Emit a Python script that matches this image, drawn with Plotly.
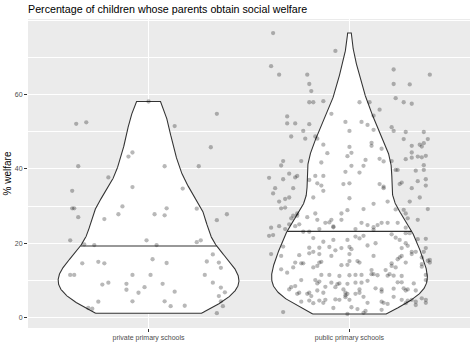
import numpy as np
import plotly.graph_objects as go

# ---------------- data ----------------
categories = ["private primary schools", "public primary schools"]
y_tick_values = [0, 20, 40, 60]

private_welfare = [58.1, 52.1, 52.5, 54.8, 51.5, 45.8, 44.4, 43.3, 40.7, 40.7,
                   40.7, 37.7, 35.1, 34.7, 34.1, 29.9, 29.4, 29.4, 29.4, 29.3,
                   27.0, 26.5, 27.8, 27.8, 27.5, 26.2, 27.8, 20.8, 20.8, 20.8,
                   20.3, 19.7, 19.5, 19.5, 17.0, 14.6, 15.0, 14.6, 15.7, 14.7,
                   15.1, 14.8, 13.4, 11.5, 11.5, 11.5, 11.5, 11.5, 8.9, 9.4,
                   9.1, 7.5, 8.2, 9.1, 6.7, 7.0, 9.4, 8.1, 6.8, 5.8,
                   4.3, 4.4, 4.4, 4.4, 2.6, 2.4, 3.1, 3.2, 3.1, 1.2]
private_jitter = [0.00, -0.36, -0.31, 0.34, 0.13, 0.31, -0.08, -0.10, -0.35, 0.08,
                  0.25, -0.20, -0.08, 0.17, -0.38, -0.13, -0.38, -0.37, 0.09, 0.24,
                  -0.35, -0.22, -0.15, 0.03, 0.08, 0.34, 0.39, -0.39, -0.01, 0.26,
                  0.24, -0.32, -0.27, 0.04, 0.32, -0.33, -0.25, -0.22, 0.02, 0.09,
                  0.29, 0.35, 0.36, -0.39, -0.37, -0.08, 0.01, 0.28, -0.23, -0.20,
                  -0.11, -0.11, -0.02, 0.07, -0.05, 0.13, 0.32, 0.36, 0.38, 0.35,
                  -0.25, -0.08, 0.08, 0.36, -0.30, -0.28, 0.11, 0.18, 0.37, 0.34]

public_welfare = [76.5, 71.7, 67.6, 65.3, 65.3, 62.8, 60.9, 57.9, 57.9, 58.2,
                  66.7, 62.8, 62.7, 65.3, 59.0, 57.9, 57.5, 57.9, 57.9, 55.9,
                  54.3, 54.8, 54.1, 52.2, 52.2, 52.0, 52.6, 52.6, 51.8, 50.2,
                  48.7, 48.1, 48.7, 48.1, 50.2, 50.5, 51.2, 50.2, 49.9, 49.9,
                  48.0, 48.0, 46.9, 46.5, 46.2, 46.0, 46.5, 47.0, 46.2, 45.9,
                  45.4, 44.2, 44.3, 43.4, 42.4, 42.7, 42.0, 42.1, 42.6, 44.4,
                  43.0, 43.3, 43.1, 43.5, 41.0, 42.1, 40.9, 42.1, 41.7, 40.8,
                  40.8, 39.2, 39.0, 39.7, 39.7, 39.5, 39.7, 37.6, 37.2, 38.7,
                  37.7, 38.1, 37.0, 38.1, 38.1, 36.1, 35.5, 35.9, 36.1, 35.9,
                  35.2, 34.8, 36.3, 35.9, 34.8, 36.7, 37.2, 35.5, 34.8, 34.8,
                  33.4, 34.1, 31.9, 32.3, 31.2, 29.4, 29.6, 32.3, 32.1, 30.6,
                  31.2, 32.3, 31.2, 29.2, 29.1, 29.0, 28.0, 26.3, 26.7, 29.2,
                  28.9, 28.0, 28.0, 28.0, 27.4, 27.4, 26.7, 27.0, 26.3, 26.3,
                  25.6, 25.5, 24.5, 24.3, 26.3, 25.5, 24.9, 24.3, 24.9, 25.5,
                  25.5, 25.5, 24.2, 25.1, 24.6, 25.1, 24.2, 24.6, 23.8, 23.8,
                  23.6, 23.8, 23.1, 23.1, 22.0, 22.2, 22.4, 22.7, 22.7, 21.1,
                  21.2, 19.1, 21.4, 20.4, 20.9, 20.9, 21.8, 21.3, 22.0, 21.5,
                  20.9, 20.0, 19.3, 20.0, 19.4, 18.8, 18.8, 19.0, 18.1, 18.7,
                  19.0, 18.4, 17.7, 17.3, 18.7, 17.7, 17.7, 18.7, 17.7, 17.1,
                  16.6, 16.8, 17.1, 16.6, 17.1, 16.6, 16.2, 16.6, 15.7, 17.1,
                  16.2, 15.3, 14.8, 14.6, 14.6, 14.8, 15.0, 14.1, 14.2, 15.2,
                  15.2, 14.8, 13.9, 13.9, 13.5, 14.6, 14.8, 14.4, 15.5, 14.8,
                  13.0, 12.1, 13.5, 13.5, 12.8, 12.8, 13.7, 11.5, 11.5, 11.5,
                  11.2, 11.4, 11.5, 11.5, 11.7, 11.7, 11.4, 11.3, 11.7, 11.3,
                  11.2, 10.1, 10.1, 9.7, 9.2, 9.4, 9.0, 9.2, 9.1, 9.4,
                  9.4, 9.9, 9.5, 9.5, 9.2, 10.1, 8.2, 8.5, 7.6, 8.3,
                  8.2, 7.6, 6.7, 7.6, 7.9, 7.6, 7.0, 7.8, 7.9, 7.3,
                  7.6, 7.3, 6.7, 6.4, 6.4, 6.7, 5.8, 7.3, 6.7, 6.0,
                  5.5, 6.4, 6.4, 6.7, 5.6, 4.9, 4.8, 4.6, 4.0, 4.8,
                  4.6, 3.9, 4.3, 4.8, 4.0, 4.3, 4.0, 3.7, 5.6, 4.8,
                  3.9, 4.6, 4.8, 3.4, 4.3, 5.2, 4.8, 4.0, 2.8, 2.3,
                  2.6, 2.1, 1.3, 1.8, 1.0, 1.5]
public_jitter = [-0.38, -0.07, -0.39, -0.35, -0.21, -0.20, -0.19, -0.20, -0.18, -0.13,
                 0.22, 0.22, 0.30, 0.40, 0.23, 0.27, 0.31, 0.05, 0.10, 0.15,
                 0.12, -0.09, -0.31, -0.31, -0.27, -0.20, -0.02, 0.06, 0.09, -0.23,
                 -0.29, -0.22, -0.17, -0.16, 0.00, 0.12, 0.21, 0.22, 0.28, 0.37,
                 0.27, 0.39, 0.37, 0.35, 0.31, 0.36, -0.13, 0.11, 0.11, 0.00,
                 0.16, -0.11, 0.01, -0.01, 0.08, 0.15, 0.17, 0.21, 0.28, 0.31,
                 0.31, 0.34, 0.36, 0.38, 0.37, -0.33, -0.34, -0.24, -0.14, 0.01,
                 0.07, -0.02, 0.05, 0.23, 0.24, 0.33, 0.37, -0.40, -0.33, -0.30,
                 -0.27, -0.26, -0.20, -0.17, -0.13, -0.16, -0.14, -0.03, 0.00, 0.15,
                 0.17, 0.17, 0.26, 0.25, 0.31, 0.34, 0.38, 0.38, -0.37, -0.28,
                 -0.38, -0.13, -0.32, -0.30, -0.35, -0.34, -0.32, -0.18, 0.00, 0.12,
                 0.19, 0.35, 0.30, 0.39, 0.23, 0.27, 0.28, 0.34, 0.29, 0.07,
                 -0.01, -0.04, -0.17, -0.26, -0.26, -0.28, -0.29, -0.21, -0.16, -0.09,
                 -0.10, -0.12, -0.08, -0.08, -0.04, 0.06, 0.09, 0.12, 0.14, 0.16,
                 0.19, 0.24, 0.28, -0.30, -0.27, -0.25, -0.39, -0.35, -0.32, 0.03,
                 0.12, -0.15, -0.23, -0.20, -0.40, -0.38, 0.21, 0.28, 0.30, 0.34,
                 0.38, -0.33, -0.18, -0.13, -0.08, -0.01, 0.03, 0.05, 0.07, 0.23,
                 0.25, 0.28, 0.29, 0.13, 0.09, -0.20, -0.15, -0.10, -0.07, -0.04,
                 0.00, 0.01, -0.18, -0.20, 0.26, 0.31, 0.33, 0.38, 0.37, -0.39,
                 -0.34, -0.25, -0.15, -0.09, 0.00, 0.12, 0.25, 0.26, 0.24, 0.31,
                 0.36, 0.39, -0.27, -0.24, -0.23, -0.15, -0.14, -0.04, -0.01, 0.00,
                 0.04, 0.05, -0.16, 0.21, 0.23, 0.21, 0.28, 0.36, 0.40, 0.40,
                 -0.34, -0.31, -0.28, -0.18, 0.11, 0.18, 0.36, 0.38, -0.14, -0.10,
                 -0.05, 0.00, 0.03, 0.06, 0.11, 0.12, 0.14, 0.19, 0.20, 0.22,
                 0.26, -0.24, -0.17, -0.15, -0.16, -0.09, -0.06, -0.05, -0.01, 0.03,
                 0.06, 0.09, 0.24, 0.26, 0.32, 0.38, -0.29, -0.27, -0.30, -0.12,
                 -0.07, -0.03, -0.02, 0.05, 0.13, 0.16, 0.16, 0.22, 0.27, 0.28,
                 0.29, 0.33, -0.25, -0.26, -0.21, -0.20, -0.19, -0.16, -0.13, -0.02,
                 -0.02, -0.01, 0.03, 0.05, 0.07, -0.07, -0.05, -0.15, -0.13, -0.12,
                 -0.20, -0.18, -0.24, 0.00, 0.09, 0.16, 0.17, 0.19, 0.22, 0.26,
                 0.28, 0.29, 0.31, 0.33, 0.33, 0.36, 0.38, 0.38, 0.01, 0.04,
                 -0.08, 0.16, 0.07, 0.08, -0.01, -0.33]

groups = [private_welfare, public_welfare]
jitters = [private_jitter, public_jitter]

# ---------------- violin statistics (ggplot-like: gaussian KDE, bw.nrd0, trimmed) ----------------
def bw_nrd0(v):
    v = np.asarray(v, float)
    sd = np.std(v, ddof=1)
    q75, q25 = np.percentile(v, [75, 25])
    lo = min(sd, (q75 - q25) / 1.34)
    return 0.9 * lo * len(v) ** (-0.2)

def kde(v, n=512):
    v = np.asarray(v, float)
    bw = bw_nrd0(v)
    grid = np.linspace(v.min(), v.max(), n)
    z = (grid[:, None] - v[None, :]) / bw
    dens = np.exp(-0.5 * z ** 2).sum(axis=1) / (len(v) * bw * np.sqrt(2 * np.pi))
    return grid, dens

stats = [kde(g) for g in groups]
max_dens = max(d.max() for _, d in stats)
violin_width = 0.9

fig = go.Figure()
line_col = "#333333"

for i, (grid, dens) in enumerate(stats):
    center = i + 1
    half = violin_width / 2 * dens / max_dens
    xs = np.concatenate([center - half, (center + half)[::-1], [center - half[0]]])
    ys = np.concatenate([grid, grid[::-1], [grid[0]]])
    fig.add_trace(go.Scatter(x=xs, y=ys, mode="lines", fill="toself",
                             fillcolor="white", line=dict(color=line_col, width=1.07),
                             hoverinfo="skip", showlegend=False))
    # median from density cdf (draw_quantiles = 0.5)
    cdf = np.cumsum(dens) / dens.sum()
    med = float(np.interp(0.5, cdf, grid))
    hw = float(np.interp(med, grid, half))
    fig.add_trace(go.Scatter(x=[center - hw, center + hw], y=[med, med], mode="lines",
                             line=dict(color=line_col, width=1.07),
                             hoverinfo="skip", showlegend=False))

for i, (vals, jit) in enumerate(zip(groups, jitters)):
    center = i + 1
    fig.add_trace(go.Scatter(x=[center + j for j in jit], y=vals, mode="markers",
                             marker=dict(color="rgba(0,0,0,0.28)", size=4.3, line=dict(width=0)),
                             hoverinfo="skip", showlegend=False))

all_vals = np.array(private_welfare + public_welfare)
rng = all_vals.max() - all_vals.min()
y_range = [all_vals.min() - 0.05 * rng, all_vals.max() + 0.05 * rng]

font_family = "Liberation Sans, Arial, Helvetica, sans-serif"
fig.update_layout(
    width=474, height=355,
    margin=dict(l=28, r=4, t=19, b=27),
    paper_bgcolor="white", plot_bgcolor="#EBEBEB",
    font=dict(family=font_family, color="black"),
    title=dict(text="Percentage of children whose parents obtain social welfare",
               x=28 / 474, xanchor="left", xref="container",
               y=1 - 9.5 / 355, yanchor="middle", yref="container",
               font=dict(size=10.7, color="black", family=font_family)),
    xaxis=dict(range=[0.4, 2.6], tickmode="array", tickvals=[1, 2], ticktext=categories,
               showgrid=True, gridcolor="white", gridwidth=1.07, zeroline=False,
               ticks="outside", ticklen=3, tickwidth=1, tickcolor="#333333",
               tickfont=dict(size=7, color="#4D4D4D"), showline=False, fixedrange=True),
    yaxis=dict(range=y_range, tickmode="array", tickvals=y_tick_values,
               ticktext=[str(v) for v in y_tick_values],
               showgrid=True, gridcolor="white", gridwidth=1.07, zeroline=False,
               minor=dict(tickmode="linear", tick0=0, dtick=10, showgrid=True,
                          gridcolor="white", gridwidth=0.53, ticks=""),
               ticks="outside", ticklen=3, tickwidth=1, tickcolor="#333333",
               tickfont=dict(size=7, color="#4D4D4D"),
               title=dict(text="% welfare", font=dict(size=10, color="black"), standoff=1),
               showline=False, fixedrange=True),
)

fig.write_html("out.html", config={"displayModeBar": False},
               post_script="document.body.style.margin='0px';")
